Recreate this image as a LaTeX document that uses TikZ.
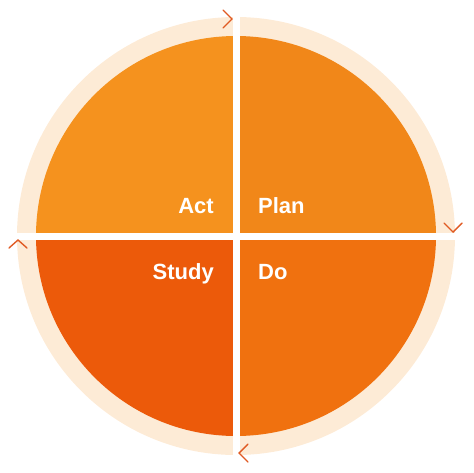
\documentclass[tikz,border=0pt]{standalone}
\usepackage{fontspec}
\setmainfont{Liberation Sans}
\definecolor{ringc}{HTML}{FDEBD6}
\definecolor{actc}{HTML}{F5921E}
\definecolor{planc}{HTML}{F18719}
\definecolor{studyc}{HTML}{EC5A0A}
\definecolor{doc}{HTML}{F0710F}
\definecolor{chev}{HTML}{E05A22}
\begin{document}
\begin{tikzpicture}[x=1pt,y=-1pt,
  lbl/.style={text=white,font=\fontsize{22}{24}\selectfont\bfseries,inner sep=0pt},
  chevron/.style={draw=chev,line width=1.4pt,line cap=round,line join=miter}]
\useasboundingbox (0,0) rectangle (474,472);
\coordinate (c) at (236,236);
\fill[ringc] (c) circle[radius=219];
\fill[actc] (c) -- ++(-200,0) arc[start angle=180,end angle=270,radius=200] -- cycle;
\fill[planc] (c) -- ++(0,-200) arc[start angle=270,end angle=360,radius=200] -- cycle;
\fill[doc] (c) -- ++(200,0) arc[start angle=0,end angle=90,radius=200] -- cycle;
\fill[studyc] (c) -- ++(0,200) arc[start angle=90,end angle=180,radius=200] -- cycle;
\fill[white] (232.5,0) rectangle (239.5,472);
\fill[white] (0,232.5) rectangle (474,239.5);
% chevrons
\draw[chevron] (223,10) -- (232,19) -- (223,28);
\draw[chevron] (444,223) -- (453,232) -- (462,223);
\draw[chevron] (248,444) -- (239,453) -- (248,462);
\draw[chevron] (9,248) -- (18,240) -- (27,248);
% labels
\node[lbl,anchor=base east] (act) at (214,213) {Act};
\node[lbl,anchor=base west] (plan) at (258,213) {Plan};
\node[lbl,anchor=base east] (study) at (214,279) {Study};
\node[lbl,anchor=base west] (do) at (258,279) {Do};
\end{tikzpicture}
\end{document}
